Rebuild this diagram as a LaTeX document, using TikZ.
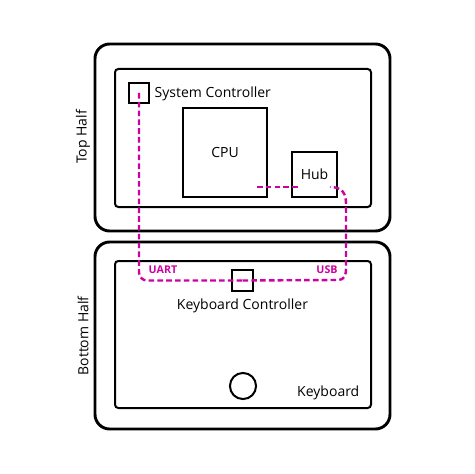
\documentclass[tikz,border=0pt]{standalone}
\usepackage{fontspec}
\setmainfont{Open Sans}
\usetikzlibrary{positioning}

\definecolor{busmagenta}{RGB}{208,0,160}

\tikzset{
	half/.style={draw, line width=2.2pt, rounded corners=11pt},
	panel/.style={draw, line width=1.5pt, rounded corners=2.5pt},
	chip/.style={draw, line width=1.5pt, inner sep=0pt},
	lbl/.style={font=\fontsize{10.5}{12}\selectfont},
	sidelbl/.style={font=\fontsize{10.5}{12}\selectfont, rotate=90},
	buslbl/.style={font=\fontsize{8}{10}\selectfont\bfseries, text=busmagenta},
	bus/.style={draw=busmagenta, line width=1.8pt, dash pattern=on 4.2pt off 2.4pt}}

\begin{document}
\begin{tikzpicture}[x=0.75pt,y=0.75pt,yscale=-1]
	\useasboundingbox (0,0) rectangle (474,474);

	%Shape: Top Half
	\draw[half] (95,44) rectangle (390,231);
	%Shape: Top panel
	\draw[panel] (115,69) rectangle (371,207);
	%Shape: Bottom Half
	\draw[half] (95,242) rectangle (390,429);
	%Shape: Bottom panel
	\draw[panel] (115,261) rectangle (371,408);

	% Side labels
	\node[sidelbl] (tophalf) at (83,137) {Top Half};
	\node[sidelbl] (bottomhalf) at (83,336) {Bottom Half};

	% Chips
	\node[chip, minimum width=15pt, minimum height=15pt] (sysctrl) at (139,93) {};
	\node[lbl, anchor=west] (sysctrllbl) at (150,94) {System Controller};
	\node[chip, minimum width=63pt, minimum height=67pt, lbl] (cpu) at (225,152.5) {CPU};
	\node[chip, minimum width=34pt, minimum height=34pt, lbl] (hub) at (314.5,174.5) {Hub};
	\node[chip, minimum width=15.5pt, minimum height=15.5pt] (kbctrl) at (242.5,280.5) {};
	\node[lbl, below=2pt of kbctrl] (kbctrllbl) {Keyboard Controller};
	\draw[line width=1.5pt] (243,386) circle (9.8pt);
	\node[lbl, anchor=east] (keyboard) at (364,393) {Keyboard};

	% Bus ends
	\coordinate (cpuport) at (257,187);
	\coordinate (hubin) at (298,187);
	\coordinate (hubout) at (330,187);
	\coordinate (usbcorner) at (346,280);

	%Straight Lines: CPU to Hub
	\draw[bus] (cpuport) -- (hubin);
	%Curve Lines: UART
	\draw[bus, rounded corners=6pt] (sysctrl.center) |- (kbctrl.center);
	%Curve Lines: USB
	\draw[bus] (kbctrl.center) -- (338,280) .. controls (344,280) and (346,276) .. (346,268) -- (346,204) .. controls (346,194) and (343,187) .. (hubout);

	% Bus labels
	\node[buslbl] (uart) at (163,270) {UART};
	\node[buslbl] (usb) at (327,270) {USB};

\end{tikzpicture}
\end{document}
